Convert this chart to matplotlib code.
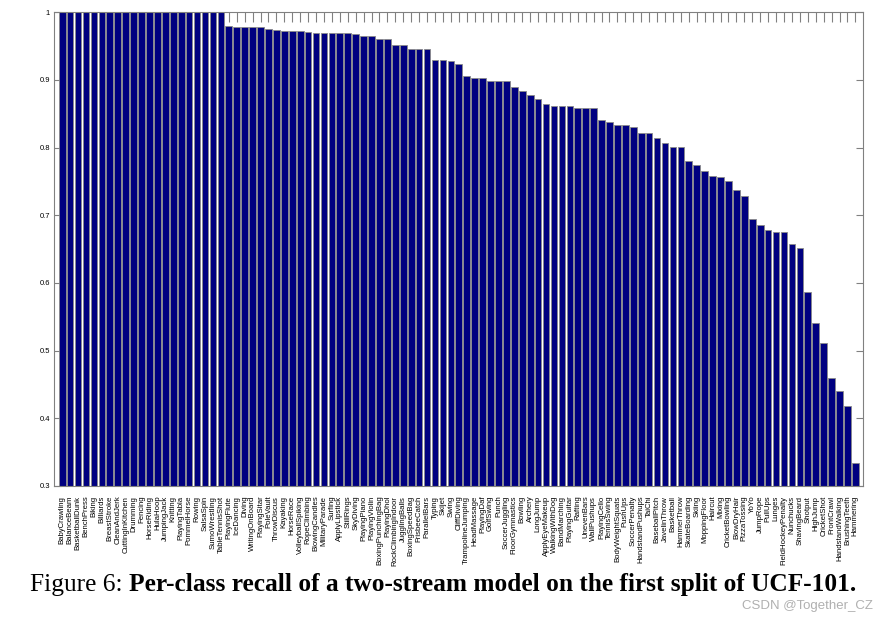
import matplotlib
matplotlib.use("Agg")
import matplotlib.pyplot as plt
import numpy as np

classes = [
    "BabyCrawling", "BalanceBeam", "BasketballDunk", "BenchPress", "Biking",
    "Billiards", "BreastStroke", "CleanAndJerk", "CuttingInKitchen", "Drumming",
    "Fencing", "HorseRiding", "HulaHoop", "JumpingJack", "Knitting",
    "PlayingTabla", "PommelHorse", "Rowing", "SalsaSpin", "SumoWrestling",
    "TableTennisShot", "PlayingFlute", "IceDancing", "Diving", "WritingOnBoard",
    "PlayingSitar", "PoleVault", "ThrowDiscus", "Kayaking", "HorseRace",
    "VolleyballSpiking", "RopeClimbing", "BlowingCandles", "MilitaryParade", "Surfing",
    "ApplyLipstick", "StillRings", "SkyDiving", "PlayingPiano", "PlayingViolin",
    "BoxingPunchingBag", "PlayingDhol", "RockClimbingIndoor", "JugglingBalls", "BoxingSpeedBag",
    "FrisbeeCatch", "ParallelBars", "Typing", "Skijet", "Swing",
    "CliffDiving", "TrampolineJumping", "HeadMassage", "PlayingDaf", "GolfSwing",
    "Punch", "SoccerJuggling", "FloorGymnastics", "Bowling", "Archery",
    "LongJump", "ApplyEyeMakeup", "WalkingWithDog", "BandMarching", "PlayingGuitar",
    "Rafting", "UnevenBars", "WallPushups", "PlayingCello", "TennisSwing",
    "BodyWeightSquats", "PushUps", "SoccerPenalty", "HandstandPushups", "TaiChi",
    "BaseballPitch", "JavelinThrow", "Basketball", "HammerThrow", "SkateBoarding",
    "Skiing", "MoppingFloor", "Haircut", "Mixing", "CricketBowling",
    "BlowDryHair", "PizzaTossing", "YoYo", "JumpRope", "PullUps",
    "Lunges", "FieldHockeyPenalty", "Nunchucks", "ShavingBeard", "Shotput",
    "HighJump", "CricketShot", "FrontCrawl", "HandstandWalking", "BrushingTeeth",
    "Hammering",
]

recall = [
    1.0, 1.0, 1.0, 1.0, 1.0, 1.0, 1.0, 1.0, 1.0, 1.0,
    1.0, 1.0, 1.0, 1.0, 1.0, 1.0, 1.0, 1.0, 1.0, 1.0,
    1.0, 0.980, 0.979, 0.979, 0.979, 0.978, 0.975, 0.974, 0.973, 0.972,
    0.972, 0.971, 0.970, 0.970, 0.970, 0.969, 0.969, 0.968, 0.965, 0.965,
    0.960, 0.960, 0.952, 0.951, 0.946, 0.946, 0.946, 0.930, 0.929, 0.928,
    0.923, 0.906, 0.903, 0.903, 0.898, 0.898, 0.898, 0.889, 0.884, 0.878,
    0.872, 0.864, 0.861, 0.861, 0.861, 0.858, 0.858, 0.858, 0.841, 0.838,
    0.834, 0.834, 0.830, 0.822, 0.822, 0.814, 0.807, 0.801, 0.801, 0.781,
    0.775, 0.765, 0.758, 0.756, 0.750, 0.737, 0.728, 0.695, 0.685, 0.679,
    0.676, 0.675, 0.657, 0.651, 0.587, 0.541, 0.511, 0.460, 0.441, 0.418,
    0.334,
]

y_ticks = [0.3, 0.4, 0.5, 0.6, 0.7, 0.8, 0.9, 1.0]
y_tick_labels = ["0.3", "0.4", "0.5", "0.6", "0.7", "0.8", "0.9", "1"]

caption_prefix = "Figure 6: "
caption_bold = "Per-class recall of a two-stream model on the first split of UCF-101."
watermark = "CSDN @Together_CZ"

W, H = 878, 620
fig = plt.figure(figsize=(W / 100, H / 100), dpi=100)
ax = fig.add_axes([54.3 / W, 1 - 486 / H, (863.3 - 54.3) / W, (486 - 12.3) / H])

x = np.arange(1, len(recall) + 1)
ax.bar(x, recall, width=0.84, color="#000080", edgecolor="#8a8a8a", linewidth=0.6, zorder=2)

ax.set_xlim(0, len(recall) + 1)
ax.set_ylim(0.3, 1.0)
ax.set_yticks(y_ticks)
ax.set_yticklabels(y_tick_labels, fontsize=5.5, family="Liberation Sans")
ax.set_xticks(x)
ax.set_xticklabels(classes, rotation=90, fontsize=5.6, family="Liberation Sans")

spine_col = "#808080"
for s in ax.spines.values():
    s.set_color(spine_col)
    s.set_linewidth(0.8)
ax.tick_params(axis="x", direction="in", bottom=False, top=True, length=7,
               color=spine_col, width=0.8, pad=7)
ax.tick_params(axis="y", direction="in", left=True, right=True, length=5,
               color=spine_col, width=0.8, pad=3)

# caption: regular prefix followed by bold text
fig.canvas.draw()
renderer = fig.canvas.get_renderer()
cap_y = 1 - 591 / H
t1 = fig.text(30 / W, cap_y, caption_prefix, fontsize=18.3, family="Liberation Serif", va="baseline")
bb = t1.get_window_extent(renderer=renderer)
fig.text(bb.x1 / W, cap_y, caption_bold, fontsize=18.3, family="Liberation Serif",
         fontweight="bold", va="baseline")

fig.text(873 / W, 1 - 606 / H, watermark, fontsize=9.5, color="#b0b0b0",
         ha="right", va="center", family="Liberation Sans")

fig.savefig("out.png", dpi=100)
